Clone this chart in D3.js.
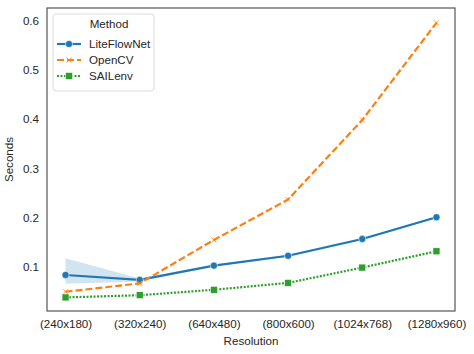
<!DOCTYPE html>
<html>
<head>
<meta charset="utf-8">
<script src="https://cdn.jsdelivr.net/npm/d3@7"></script>
<style>
  body { margin: 0; background: #fff; }
  text { font-family: "Liberation Sans", Arial, sans-serif; fill: #262626; }
</style>
</head>
<body>
<svg id="chart" width="474" height="354"></svg>
<script>
const resolutions = ["(240x180)", "(320x240)", "(640x480)", "(800x600)", "(1024x768)", "(1280x960)"];
const liteflownet = [0.084, 0.074, 0.103, 0.123, 0.157, 0.201];
const liteflownetLow = [0.066, 0.071, 0.101, 0.121, 0.155, 0.199];
const liteflownetHigh = [0.118, 0.077, 0.105, 0.125, 0.159, 0.203];
const opencv = [0.050, 0.067, 0.155, 0.237, 0.398, 0.595];
const sailenv = [0.0385, 0.043, 0.054, 0.068, 0.099, 0.132];
const yticks = [0.1, 0.2, 0.3, 0.4, 0.5, 0.6];

const series = [
    {name: "LiteFlowNet", values: liteflownet, color: "#1f77b4", dash: null, marker: "circle"},
    {name: "OpenCV", values: opencv, color: "#ff7f0e", dash: "7,3", marker: "x"},
    {name: "SAILenv", values: sailenv, color: "#2ca02c", dash: "2,1.5", marker: "square"}
];

const margin = {top: 8, right: 19, bottom: 43, left: 47};
const width = 474 - margin.left - margin.right;
const height = 354 - margin.top - margin.bottom;

const svg = d3.select("#chart");
const g = svg.append("g").attr("transform", `translate(${margin.left},${margin.top})`);

const x = d3.scaleLinear().domain([-0.25, 5.25]).range([0, width]);
const y = d3.scaleLinear().domain([0.011, 0.625]).range([height, 0]);

// confidence band
const area = d3.area()
    .x((d, i) => x(i))
    .y0((d, i) => y(liteflownetLow[i]))
    .y1((d, i) => y(liteflownetHigh[i]));
g.append("path")
    .datum(liteflownet)
    .attr("d", area)
    .attr("fill", "#1f77b4")
    .attr("fill-opacity", 0.2);

const line = d3.line().x((d, i) => x(i)).y(d => y(d));

series.forEach(s => {
    g.append("path")
        .datum(s.values)
        .attr("d", line)
        .attr("fill", "none")
        .attr("stroke", s.color)
        .attr("stroke-width", 2.2)
        .attr("stroke-dasharray", s.dash);
    drawMarkers(g, s, s.values.map((v, i) => [x(i), y(v)]));
});

function drawMarkers(parent, s, pts) {
    pts.forEach(([px, py]) => {
        if (s.marker === "circle") {
            parent.append("circle").attr("cx", px).attr("cy", py).attr("r", 3.6)
                .attr("fill", s.color).attr("stroke", "#fff").attr("stroke-width", 0.6);
        } else if (s.marker === "square") {
            parent.append("rect").attr("x", px - 3.5).attr("y", py - 3.5)
                .attr("width", 7).attr("height", 7)
                .attr("fill", s.color).attr("stroke", "#fff").attr("stroke-width", 0.6);
        } else {
            parent.append("path")
                .attr("d", `M${px - 2.5},${py - 2.5}L${px + 2.5},${py + 2.5}M${px - 2.5},${py + 2.5}L${px + 2.5},${py - 2.5}`)
                .attr("stroke", s.color).attr("stroke-width", 1).attr("stroke-opacity", 0.8);
        }
    });
}

// frame
g.append("rect").attr("width", width).attr("height", height)
    .attr("fill", "none").attr("stroke", "#555").attr("stroke-width", 1.2);

// axes
const xaxis = d3.axisBottom(x).tickValues(d3.range(resolutions.length))
    .tickFormat(i => resolutions[i]).tickSize(0).tickPadding(9);
const yaxis = d3.axisLeft(y).tickValues(yticks).tickFormat(d3.format(".1f"))
    .tickSize(0).tickPadding(8);

g.append("g").attr("transform", `translate(0,${height})`).call(xaxis)
    .call(a => a.select(".domain").remove())
    .selectAll("text").style("font-size", "11.6px").attr("fill", "#262626");
g.append("g").call(yaxis)
    .call(a => a.select(".domain").remove())
    .selectAll("text").style("font-size", "11.6px").attr("fill", "#262626");

g.append("text").attr("x", width / 2).attr("y", height + 34)
    .attr("text-anchor", "middle").style("font-size", "11.6px").text("Resolution");
g.append("text").attr("transform", `translate(-34,${height / 2}) rotate(-90)`)
    .attr("text-anchor", "middle").style("font-size", "11.6px").text("Seconds");

// legend
const lg = svg.append("g").attr("transform", "translate(53,14)");
lg.append("rect").attr("width", 101).attr("height", 77).attr("rx", 3)
    .attr("fill", "#fff").attr("fill-opacity", 0.8)
    .attr("stroke", "#dcdcdc").attr("stroke-width", 1);
lg.append("text").attr("x", 56).attr("y", 14).attr("text-anchor", "middle")
    .style("font-size", "11.6px").text("Method");
series.forEach((s, i) => {
    const yy = 30 + i * 16;
    lg.append("line").attr("x1", 4).attr("x2", 28).attr("y1", yy).attr("y2", yy)
        .attr("stroke", s.color).attr("stroke-width", 2.2).attr("stroke-dasharray", s.dash);
    drawMarkers(lg, s, [[16, yy]]);
    lg.append("text").attr("x", 36).attr("y", yy + 4).style("font-size", "11.6px").text(s.name);
});
</script>
</body>
</html>
